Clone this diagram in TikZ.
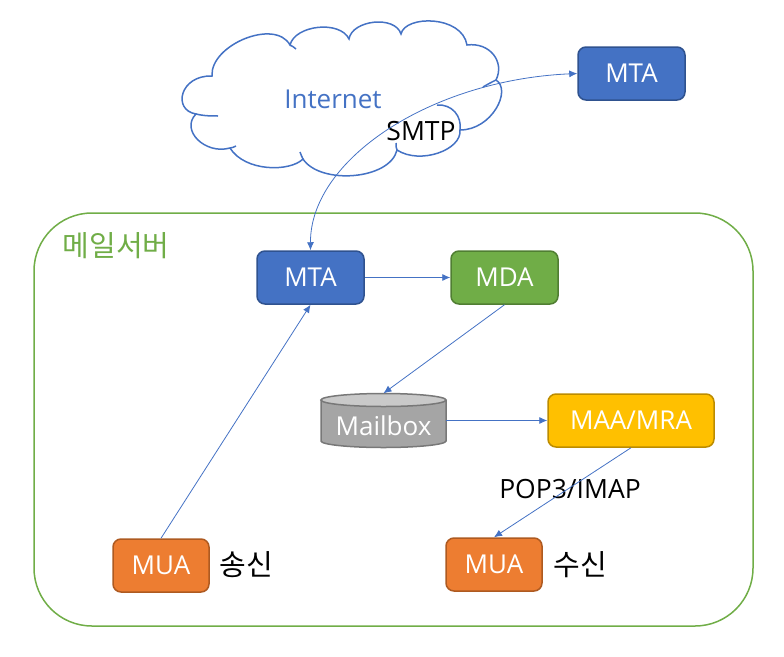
\documentclass[tikz,border=0pt]{standalone}
\usepackage{fontspec}
\setmainfont{Open Sans}
\newfontfamily\kr{Noto Sans CJK KR}
\usetikzlibrary{arrows.meta}
\definecolor{cblue}{HTML}{4472C4}
\definecolor{cbluedark}{HTML}{2F528F}
\definecolor{cgreen}{HTML}{70AD47}
\definecolor{cgreendark}{HTML}{507E32}
\definecolor{corange}{HTML}{ED7D31}
\definecolor{corangedark}{HTML}{AE5A21}
\definecolor{cgold}{HTML}{FFC000}
\definecolor{cgolddark}{HTML}{BC8C00}
\definecolor{cgray}{HTML}{A5A5A5}
\definecolor{cgraydark}{HTML}{787878}
\definecolor{cgraylight}{HTML}{C9C9C9}
\begin{document}
\begin{tikzpicture}[x=1pt,y=-1pt,
  box/.style={rounded corners=8pt, line width=1.5pt, minimum width=107pt, minimum height=53pt,
    text=white, font=\fontsize{26}{30}\selectfont, inner sep=0pt},
  bluebox/.style={box, fill=cblue, draw=cbluedark},
  greenbox/.style={box, fill=cgreen, draw=cgreendark},
  orangebox/.style={box, fill=corange, draw=corangedark, minimum width=96pt},
  goldbox/.style={box, fill=cgold, draw=cgolddark, minimum width=166pt},
  conn/.style={draw=cblue, line width=0.8pt, -{Latex[length=8pt,width=7pt]}},
  lbl/.style={font=\fontsize{26.5}{30}\selectfont, text=black, inner sep=0pt},
  krlbl/.style={font=\kr\fontsize{29}{33}\selectfont, inner sep=0pt},
  cloudline/.style={draw=cblue, line width=1.5pt}
]
\useasboundingbox (0,0) rectangle (784,656);
% container
\draw[cgreen, line width=1.5pt, rounded corners=58pt] (34,213) rectangle (753,626);
\node[krlbl, text=cgreen] (srv) at (116,246) {메일서버};
% cloud
\draw[cloudline]
  (212,76) .. controls (210,45) and (275,18) .. (290,45)
  .. controls (295,25) and (340,20) .. (349,39)
  .. controls (352,20) and (395,15) .. (401,34)
  .. controls (405,15) and (462,15) .. (467,45)
  .. controls (490,42) and (505,62) .. (496,80)
  .. controls (512,90) and (492,130) .. (460,130)
  .. controls (462,150) and (420,165) .. (397,150)
  .. controls (390,180) and (320,185) .. (303,159)
  .. controls (290,172) and (245,172) .. (230,148)
  .. controls (205,155) and (180,130) .. (196,114)
  .. controls (172,110) and (180,75) .. cycle;
\draw[cloudline] (196,114) .. controls (204,116) and (212,116) .. (218,116);
\draw[cloudline] (290,45) .. controls (292,46) and (294,47) .. (296,49);
\draw[cloudline] (460,130) .. controls (462,116) and (452,104) .. (437,105);
\draw[cloudline] (496,80) .. controls (492,82) and (488,84) .. (483,87);
\draw[cloudline] (303,159) .. controls (302,157) and (301,155) .. (300,152);
\draw[cloudline] (397,150) .. controls (396,148) and (396,146) .. (396,143);
\draw[cloudline] (230,148) .. controls (232,148) and (234,147) .. (236,146);
\node[font=\fontsize{26}{30}\selectfont, text=cblue, inner sep=0pt] (inet) at (333,99) {Internet};
% nodes
\node[bluebox] (mtat) at (631.5,73.5) {MTA};
\node[bluebox] (mta) at (310.5,277.5) {MTA};
\node[greenbox] (mda) at (504.5,277.5) {MDA};
% mailbox cylinder
\path[fill=cgray, draw=cgraydark, line width=1.5pt] (321,400) -- (321,441)
  arc[start angle=180, end angle=0, x radius=62.5, y radius=6.5] -- (446,400);
\draw[fill=cgraylight, draw=cgraydark, line width=1.5pt] (383.5,400) ellipse[x radius=62.5, y radius=6.5];
\node[minimum width=125pt, minimum height=54pt, inner sep=0pt] (mb) at (383.5,420.5) {};
\node[text=white, font=\fontsize{26}{30}\selectfont, inner sep=0pt] (mbt) at (383.5,426) {Mailbox};
\node[goldbox] (maa) at (631,420.5) {MAA/MRA};
\node[orangebox] (mua1) at (161,565.5) {MUA};
\node[orangebox] (mua2) at (494,564.5) {MUA};
\node[krlbl] (send) at (246,565) {송신};
\node[krlbl] (recv) at (580,565) {수신};
\node[lbl] (smtp) at (421,131) {SMTP};
\node[lbl] (pop) at (570,489) {POP3/IMAP};
% connectors
\draw[conn, {Latex[length=8pt,width=7pt]}-{Latex[length=8pt,width=7pt]}] (mta.north) .. controls (310,160) and (430,80) .. (mtat.west);
\draw[conn] (mta.east) -- (mda.west);
\draw[conn] (mda.south) -- (mb.north);
\draw[conn] (mb.east) -- (maa.west);
\draw[conn] (maa.south) -- (mua2.north);
\draw[conn] (mua1.north) -- (mta.south);
\end{tikzpicture}
\end{document}
